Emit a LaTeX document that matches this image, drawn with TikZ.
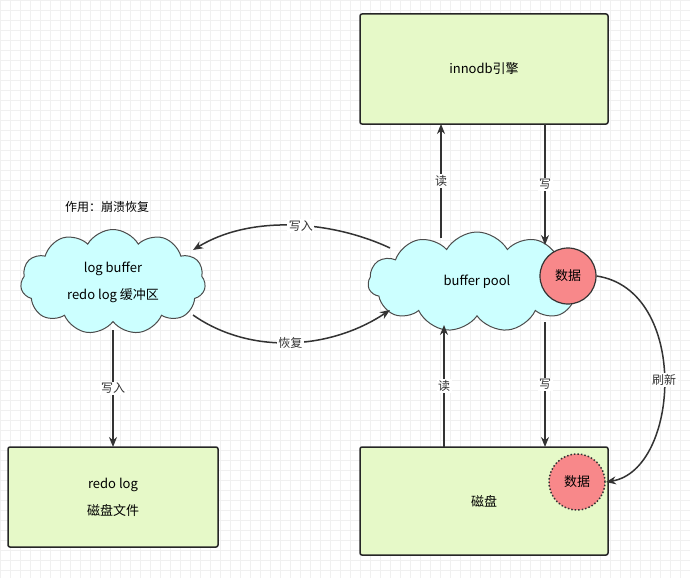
\documentclass[tikz,border=0pt]{standalone}
\usepackage{fontspec}
\setmainfont{Noto Sans CJK SC}
\usetikzlibrary{shapes.symbols,arrows.meta}
\definecolor{boxg}{HTML}{E6F9C8}
\definecolor{cloudc}{HTML}{CCFFFF}
\definecolor{redc}{HTML}{F8888A}
\tikzset{
 box/.style={draw=black!85,line width=1.5pt,fill=boxg,rounded corners=2pt,align=center,font=\fontsize{13}{15}\selectfont},
 cl/.style={cloud,cloud puffs=11,cloud puff arc=120,aspect=2,draw=black!70,line width=1pt,fill=cloudc,align=center,font=\fontsize{13}{15}\selectfont,inner sep=0pt},
 dat/.style={circle,minimum size=56pt,fill=redc,font=\fontsize{13}{15}\selectfont},
 arr/.style={-{Stealth[length=10pt,width=8pt]},line width=1.5pt,black!80},
 lab/.style={fill=white,font=\fontsize{12}{14}\selectfont,inner sep=1.5pt}
}
\begin{document}
\begin{tikzpicture}[x=1pt,y=-1pt]
\useasboundingbox (0,0) rectangle (690,578);
\foreach \i in {0,10,...,690} \draw[black!6] (\i,0) -- (\i,578);
\foreach \i in {0,10,...,578} \draw[black!6] (0,\i) -- (690,\i);
\node[box,minimum width=248,minimum height=110] (inno) at (484,69) {innodb引擎};
\node[box,minimum width=210,minimum height=100] (redo) at (113,497) {redo log\\[12pt]磁盘文件};
\node[box,minimum width=248,minimum height=108] (disk) at (484,501) {磁盘};
\node[cl,minimum width=185,minimum height=105] (lb) at (113,282) {log buffer\\[12pt]redo log 缓冲区};
\node[cl,minimum width=218,minimum height=100] (bp) at (477,282) {buffer pool};
\node[dat,draw=black!80,line width=1.2pt] (d1) at (568,276) {数据};
\node[dat,draw=black!80,line width=1.5pt,dotted] (d2) at (577,482) {数据};
\node[font=\fontsize{12}{14}\selectfont] (t) at (107,207) {作用：崩溃恢复};
\coordinate (a1) at (441,238); \coordinate (a2) at (441,124);
\draw[arr] (a1) -- node[lab]{读} (a2);
\coordinate (b1) at (545,124); \coordinate (b2) at (545,245);
\draw[arr] (b1) -- node[lab]{写} (b2);
\coordinate (c1) at (444,447); \coordinate (c2) at (444,325);
\draw[arr] (c1) -- node[lab]{读} (c2);
\coordinate (e1) at (545,322); \coordinate (e2) at (545,447);
\draw[arr] (e1) -- node[lab]{写} (e2);
\coordinate (f1) at (113,330); \coordinate (f2) at (113,447);
\draw[arr] (f1) -- node[lab]{写入} (f2);
\coordinate (g1) at (390,248); \coordinate (g2) at (193,250);
\draw[arr] (g1) .. controls (330,220) and (250,215) .. node[lab,pos=0.45]{写入} (g2);
\coordinate (h1) at (193,315); \coordinate (h2) at (390,310);
\draw[arr] (h1) .. controls (250,355) and (330,350) .. node[lab,pos=0.5]{恢复} (h2);
\coordinate (k2) at (606,482);
\draw[arr] (d1.east) .. controls (690,290) and (680,470) .. node[lab,pos=0.5]{刷新} (k2);
\end{tikzpicture}
\end{document}
